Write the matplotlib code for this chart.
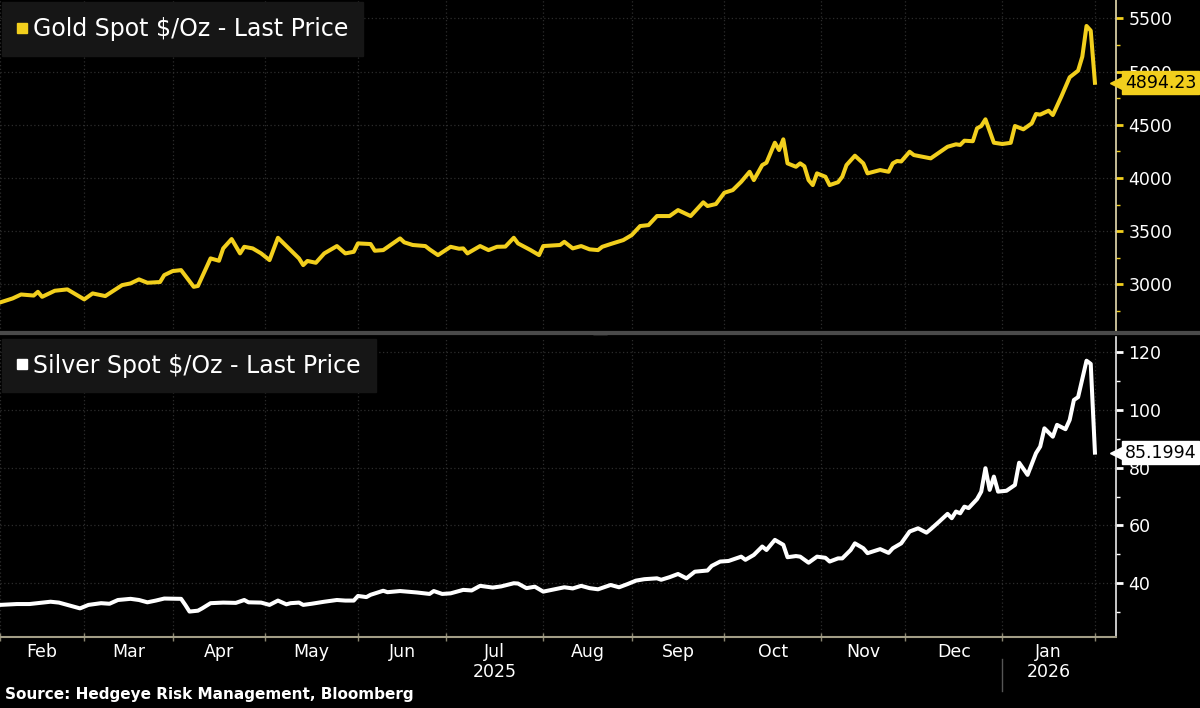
import matplotlib.pyplot as plt
import matplotlib.lines as mlines
import matplotlib.patches as mpatches
import numpy as np

# values (business-day axis)
start = '2025-02-03'

gold_dates = [
    '2025-02-03', '2025-02-06', '2025-02-10', '2025-02-13', '2025-02-14', '2025-02-17', '2025-02-20',
    '2025-02-25', '2025-03-03', '2025-03-05', '2025-03-10', '2025-03-14', '2025-03-18', '2025-03-20',
    '2025-03-24', '2025-03-27', '2025-03-28', '2025-04-01', '2025-04-03', '2025-04-08', '2025-04-09',
    '2025-04-14', '2025-04-16', '2025-04-17', '2025-04-21', '2025-04-23', '2025-04-24', '2025-04-28',
    '2025-04-30', '2025-05-02', '2025-05-06', '2025-05-09', '2025-05-13', '2025-05-14', '2025-05-15',
    '2025-05-19', '2025-05-21', '2025-05-26', '2025-05-28', '2025-05-30', '2025-06-02', '2025-06-05',
    '2025-06-06', '2025-06-10', '2025-06-16', '2025-06-17', '2025-06-19', '2025-06-24', '2025-06-25',
    '2025-06-27', '2025-07-02', '2025-07-04', '2025-07-07', '2025-07-08', '2025-07-11', '2025-07-15',
    '2025-07-17', '2025-07-21', '2025-07-23', '2025-07-24', '2025-07-29', '2025-07-31', '2025-08-01',
    '2025-08-07', '2025-08-08', '2025-08-12', '2025-08-14', '2025-08-18', '2025-08-20', '2025-08-21',
    '2025-08-25', '2025-08-28', '2025-09-01', '2025-09-03', '2025-09-05', '2025-09-09', '2025-09-12',
    '2025-09-16', '2025-09-19', '2025-09-24', '2025-09-25', '2025-09-29', '2025-10-01', '2025-10-03',
    '2025-10-07', '2025-10-09', '2025-10-10', '2025-10-14', '2025-10-15', '2025-10-17', '2025-10-20',
    '2025-10-21', '2025-10-22', '2025-10-24', '2025-10-27', '2025-10-28', '2025-10-29', '2025-10-30',
    '2025-10-31', '2025-11-04', '2025-11-05', '2025-11-07', '2025-11-10', '2025-11-11', '2025-11-13',
    '2025-11-17', '2025-11-18', '2025-11-21', '2025-11-25', '2025-11-26', '2025-11-27', '2025-11-28',
    '2025-12-02', '2025-12-03', '2025-12-09', '2025-12-15', '2025-12-17', '2025-12-18', '2025-12-19',
    '2025-12-23', '2025-12-24', '2025-12-25', '2025-12-26', '2025-12-30', '2026-01-01', '2026-01-05',
    '2026-01-06', '2026-01-08', '2026-01-12', '2026-01-13', '2026-01-14', '2026-01-16', '2026-01-19',
    '2026-01-21', '2026-01-23', '2026-01-27', '2026-01-28', '2026-01-29', '2026-01-30', '2026-02-02',
]
gold_prices = [
    2830, 2868, 2905, 2895, 2930, 2883, 2940,
    2953, 2859, 2915, 2890, 2993, 3009, 3047,
    3015, 3022, 3087, 3125, 3134, 2977, 2985,
    3244, 3222, 3338, 3426, 3291, 3353, 3338,
    3291, 3228, 3438, 3322, 3244, 3181, 3220,
    3203, 3291, 3360, 3291, 3306, 3385, 3379,
    3316, 3322, 3432, 3395, 3370, 3360, 3329,
    3275, 3353, 3335, 3338, 3291, 3360, 3322,
    3353, 3355, 3438, 3385, 3322, 3275, 3360,
    3370, 3400, 3338, 3360, 3329, 3322, 3353,
    3379, 3416, 3463, 3548, 3557, 3642, 3642,
    3698, 3642, 3771, 3736, 3755, 3861, 3886,
    3964, 4058, 3980, 4121, 4143, 4331, 4262,
    4363, 4137, 4105, 4137, 4110, 3980, 3933,
    4043, 4011, 3933, 3960, 4011, 4121, 4209,
    4137, 4043, 4074, 4058, 4137, 4159, 4155,
    4246, 4215, 4184, 4293, 4316, 4310, 4350,
    4345, 4466, 4488, 4551, 4331, 4319, 4330,
    4488, 4457, 4513, 4601, 4595, 4632, 4591,
    4763, 4946, 5008, 5140, 5428, 5384, 4894.23,
]

silver_dates = [
    '2025-02-03', '2025-02-07', '2025-02-12', '2025-02-17', '2025-02-19', '2025-02-21', '2025-02-26',
    '2025-02-28', '2025-03-04', '2025-03-07', '2025-03-11', '2025-03-13', '2025-03-18', '2025-03-20',
    '2025-03-24', '2025-03-26', '2025-03-28', '2025-04-03', '2025-04-04', '2025-04-07', '2025-04-09',
    '2025-04-10', '2025-04-14', '2025-04-17', '2025-04-22', '2025-04-24', '2025-04-25', '2025-04-30',
    '2025-05-02', '2025-05-06', '2025-05-08', '2025-05-09', '2025-05-13', '2025-05-14', '2025-05-16',
    '2025-05-21', '2025-05-26', '2025-05-28', '2025-05-30', '2025-06-02', '2025-06-04', '2025-06-05',
    '2025-06-10', '2025-06-11', '2025-06-16', '2025-06-20', '2025-06-25', '2025-06-26', '2025-06-30',
    '2025-07-02', '2025-07-07', '2025-07-09', '2025-07-11', '2025-07-16', '2025-07-18', '2025-07-23',
    '2025-07-24', '2025-07-28', '2025-07-30', '2025-08-01', '2025-08-05', '2025-08-08', '2025-08-12',
    '2025-08-14', '2025-08-18', '2025-08-20', '2025-08-25', '2025-08-27', '2025-08-29', '2025-09-02',
    '2025-09-04', '2025-09-09', '2025-09-10', '2025-09-12', '2025-09-16', '2025-09-18', '2025-09-22',
    '2025-09-25', '2025-09-26', '2025-09-30', '2025-10-02', '2025-10-03', '2025-10-07', '2025-10-08',
    '2025-10-10', '2025-10-14', '2025-10-15', '2025-10-17', '2025-10-21', '2025-10-22', '2025-10-24',
    '2025-10-27', '2025-10-29', '2025-10-31', '2025-11-04', '2025-11-05', '2025-11-07', '2025-11-10',
    '2025-11-12', '2025-11-13', '2025-11-17', '2025-11-18', '2025-11-21', '2025-11-25', '2025-11-26',
    '2025-11-28', '2025-12-02', '2025-12-04', '2025-12-08', '2025-12-09', '2025-12-11', '2025-12-15',
    '2025-12-16', '2025-12-17', '2025-12-18', '2025-12-19', '2025-12-22', '2025-12-24', '2025-12-25',
    '2025-12-26', '2025-12-29', '2025-12-30', '2025-12-31', '2026-01-02', '2026-01-06', '2026-01-07',
    '2026-01-09', '2026-01-13', '2026-01-14', '2026-01-15', '2026-01-19', '2026-01-20', '2026-01-22',
    '2026-01-23', '2026-01-26', '2026-01-27', '2026-01-29', '2026-01-30', '2026-02-02',
]
silver_prices = [
    32.5, 32.8, 32.8, 33.3, 33.6, 33.3, 32.1,
    31.3, 32.5, 33.1, 32.9, 34.2, 34.6, 34.2,
    33.4, 34.0, 34.7, 34.6, 32.5, 30.2, 30.5,
    31.3, 33.1, 33.3, 33.2, 34.2, 33.4, 33.3,
    32.5, 34.0, 32.7, 33.1, 33.3, 32.5, 32.9,
    33.6, 34.2, 34.0, 34.0, 35.6, 35.2, 36.0,
    37.4, 36.9, 37.3, 36.8, 36.3, 37.3, 36.3,
    36.5, 37.7, 37.5, 39.1, 38.5, 38.9, 40.0,
    39.9, 38.3, 38.8, 37.1, 37.7, 38.6, 38.2,
    39.1, 38.3, 37.9, 39.4, 38.6, 39.7, 40.9,
    41.4, 41.7, 41.2, 42.1, 43.2, 41.7, 44.0,
    44.4, 46.0, 47.5, 47.7, 48.2, 49.2, 48.1,
    49.8, 52.7, 51.5, 55.0, 53.3, 49.0, 49.4,
    49.2, 47.1, 49.2, 48.8, 47.5, 48.6, 48.6,
    51.5, 53.8, 52.1, 50.4, 51.8, 50.5, 52.1,
    53.8, 57.9, 59.0, 57.5, 58.7, 61.3, 64.0,
    62.5, 64.8, 64.2, 66.5, 66.0, 69.1, 71.7,
    79.8, 72.3, 76.9, 71.7, 72.0, 74.0, 81.7,
    77.5, 85.0, 87.3, 93.6, 90.7, 94.8, 93.3,
    96.5, 103.4, 104.4, 117.0, 115.9, 85.1994,
]

month_starts = ['2025-02-01', '2025-03-01', '2025-04-01', '2025-05-01', '2025-06-01', '2025-07-01',
                '2025-08-01', '2025-09-01', '2025-10-01', '2025-11-01', '2025-12-01', '2026-01-01',
                '2026-02-01']
month_labels = ['Feb', 'Mar', 'Apr', 'May', 'Jun', 'Jul\n2025', 'Aug', 'Sep', 'Oct', 'Nov', 'Dec',
                'Jan\n2026']

gold_ticks = [3000, 3500, 4000, 4500, 5000, 5500]
silver_ticks = [40, 60, 80, 100, 120]

GOLD = '#f2cf1d'
BG = '#000000'
PANEL = '#161616'
GRID = '#2c2c2c'


def bday(dates):
    return np.busday_count(start, np.array(dates, dtype='datetime64[D]'))


gx = bday(gold_dates)
sx = bday(silver_dates)
bounds = bday(np.busday_offset(np.array(month_starts, dtype='datetime64[D]'), 0, roll='forward'))
mids = (bounds[:-1] + bounds[1:]) / 2

fig = plt.figure(figsize=(12, 7.08), dpi=100, facecolor=BG)
ax1 = fig.add_axes([0.0, 0.531, 0.93, 0.469])
ax2 = fig.add_axes([0.0, 0.1003, 0.93, 0.4237])

panels = [
    (ax1, gx, gold_prices, GOLD, 'Gold Spot $/Oz - Last Price', gold_ticks, 250, (2552, 5672),
     '4894.23', '#e6dcb0'),
    (ax2, sx, silver_prices, 'white', 'Silver Spot $/Oz - Last Price', silver_ticks, 10, (21.4, 125.2),
     '85.1994', '#e8e8e8'),
]

for ax, x, y, color, label, ticks, step, ylim, last_txt, spine_col in panels:
    ax.set_facecolor(BG)
    ax.plot(x, y, color=color, lw=2.9, solid_joinstyle='round', zorder=3)
    ax.set_xlim(0.7, 265)
    ax.set_ylim(*ylim)

    ax.yaxis.tick_right()
    ax.set_yticks(ticks)
    ax.set_yticks(np.arange(ticks[0] - step, ticks[-1] + step, 2 * step), minor=True)
    ax.tick_params(axis='y', which='major', colors=color, labelcolor='white', labelsize=12.5,
                   length=5, width=2, pad=4)
    ax.tick_params(axis='y', which='minor', colors=color, length=3, width=1)

    ax.set_xticks(bounds)
    ax.grid(True, which='major', color=GRID, ls=(0, (1, 2)), lw=0.9)

    for s in ['top', 'left', 'bottom']:
        ax.spines[s].set_visible(False)
    ax.spines['right'].set_color(spine_col)
    ax.spines['right'].set_linewidth(1.2)

    handle = mlines.Line2D([], [], marker='s', color=color, ls='', markersize=7)
    leg = ax.legend([handle], [label], loc='upper left', bbox_to_anchor=(0.002, 0.993),
                    borderaxespad=0, frameon=True, fancybox=False, facecolor=PANEL,
                    edgecolor=PANEL, framealpha=1, fontsize=17, handlelength=0.45,
                    handletextpad=0.25, borderpad=0.62)
    for t in leg.get_texts():
        t.set_color('white')

    # last price tag
    last = y[-1]
    ax.plot([1.0], [last], marker='<', ms=9, color=color, clip_on=False,
            transform=ax.get_yaxis_transform(), zorder=5)
    ax.text(1.008, last, last_txt, transform=ax.get_yaxis_transform(), ha='left', va='center',
            fontsize=12.5, color='black', zorder=6,
            bbox=dict(boxstyle='square,pad=0.15', fc=color, ec=color))

ax1.tick_params(axis='x', which='both', length=0, labelbottom=False)

ax2.spines['bottom'].set_visible(True)
ax2.spines['bottom'].set_color('#a29d86')
ax2.spines['bottom'].set_linewidth(1.5)
ax2.set_xticks(mids, minor=True)
ax2.set_xticklabels(month_labels, minor=True)
ax2.tick_params(axis='x', which='major', direction='inout', length=6, width=1,
                colors='#8a8672', labelbottom=False)
ax2.tick_params(axis='x', which='minor', length=0, labelsize=12.5, labelcolor='white', pad=4)

# year separator under the Jan boundary
ax2.plot([bounds[11], bounds[11]], [-0.075, -0.18], color='#555555', lw=1,
         transform=ax2.get_xaxis_transform(), clip_on=False)

# divider between the two panels
fig.add_artist(mlines.Line2D([0, 1], [0.5297, 0.5297], transform=fig.transFigure,
                             color='#4a4a4a', lw=3))
fig.add_artist(mpatches.Rectangle((0.494, 0.5283), 0.012, 0.0028, transform=fig.transFigure,
                                  color='#8a8a8a'))

fig.text(0.004, 1 - 694 / 708, 'Source: Hedgeye Risk Management, Bloomberg', color='white',
         fontsize=11, fontweight='bold', va='center', ha='left')

fig.savefig('out.png', dpi=100, facecolor=BG)
